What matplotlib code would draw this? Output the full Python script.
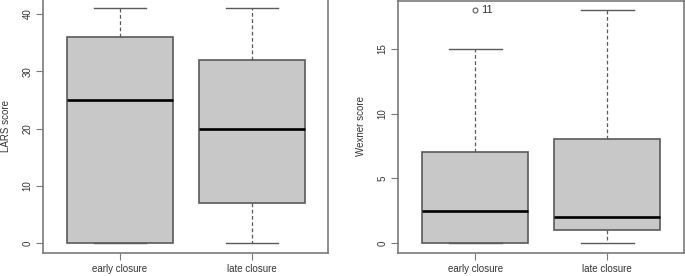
import matplotlib
matplotlib.use("Agg")
import matplotlib.pyplot as plt

plt.rcParams["font.family"] = ["Liberation Sans", "DejaVu Sans"]

groups = ["early closure", "late closure"]

lars_low = [0, 0]
lars_q1 = [0, 7]
lars_med = [25, 20]
lars_q3 = [36, 32]
lars_high = [41, 41]
lars_ticks = [0, 10, 20, 30, 40]

wex_low = [0, 0]
wex_q1 = [0, 1]
wex_med = [2.5, 2]
wex_q3 = [7, 8]
wex_high = [15, 18]
wex_fliers = [[18], []]
wex_flier_labels = [["11"], []]
wex_ticks = [0, 5, 10, 15]

FILL = "#c8c8c8"
EDGE = "#5a5a5a"
FRAME = "#7a7a7a"
TEXT = "#333333"


def draw_box(ax, low, q1, med, q3, high, fliers, ticks, ylabel, labels=None):
    stats = []
    for i in range(len(groups)):
        stats.append(dict(whislo=low[i], q1=q1[i], med=med[i], q3=q3[i],
                          whishi=high[i], fliers=fliers[i], label=groups[i]))
    ax.bxp(stats, positions=[1, 2], widths=0.8, patch_artist=True,
           boxprops=dict(facecolor=FILL, edgecolor=EDGE, linewidth=1.2),
           medianprops=dict(color="black", linewidth=1.9),
           whiskerprops=dict(color=EDGE, linestyle=(0, (3, 2)), linewidth=0.9),
           capprops=dict(color=EDGE, linewidth=1.0),
           capwidths=0.4,
           flierprops=dict(marker="o", markerfacecolor="none", markeredgecolor=EDGE,
                           markersize=3.5, markeredgewidth=0.8))

    lo = min(low + [v for f in fliers for v in f])
    hi = max(high + [v for f in fliers for v in f])
    pad = (hi - lo) * 0.04
    ax.set_ylim(lo - pad, hi + pad)
    ax.set_xlim(0.42, 2.58)

    if labels:
        for i, labs in enumerate(labels):
            for v, t in zip(fliers[i], labs):
                ax.annotate(t, (i + 1, v), xytext=(4, 0), textcoords="offset points",
                            va="center", ha="left", fontsize=8, color=TEXT)

    ax.set_yticks(ticks)
    ax.set_yticklabels([str(t) for t in ticks], rotation=90, va="center")
    ax.set_xticks([1, 2])
    ax.set_xticklabels(groups)
    ax.tick_params(axis="both", length=5, width=0.8, color=FRAME,
                   labelsize=7, labelcolor=TEXT, pad=3)
    ax.set_ylabel(ylabel, fontsize=7, color=TEXT, labelpad=8)
    for s in ax.spines.values():
        s.set_color(FRAME)
        s.set_linewidth(1.2)


fig = plt.figure(figsize=(6.85, 2.76), dpi=100)
ax1 = fig.add_axes([43.5 / 685, 23.5 / 276, 285 / 685, 253.5 / 276])
ax2 = fig.add_axes([398.5 / 685, 23.5 / 276, 285.5 / 685, 252 / 276])

draw_box(ax1, lars_low, lars_q1, lars_med, lars_q3, lars_high, [[], []],
         lars_ticks, "LARS score")
draw_box(ax2, wex_low, wex_q1, wex_med, wex_q3, wex_high, wex_fliers,
         wex_ticks, "Wexner score", wex_flier_labels)

fig.savefig("out.png", dpi=100)
